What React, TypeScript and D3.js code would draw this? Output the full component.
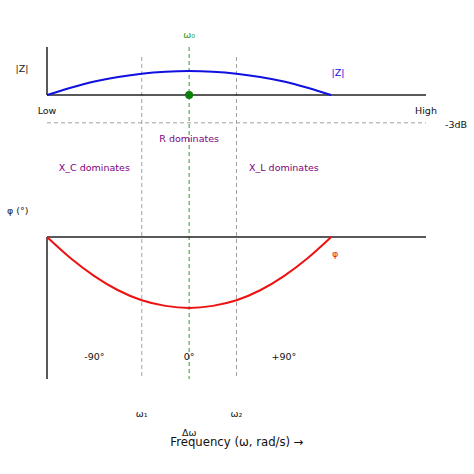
import * as d3 from 'd3';
import React from 'react';

// frequency samples (arbitrary units, resonance at 3)
const FREQ = [0, 0.5, 1, 1.5, 2, 2.5, 3, 3.5, 4, 4.5, 5, 5.5, 6];
// |Z| response (0..1 scale)
const IMPEDANCE = [0, 0.15, 0.28, 0.375, 0.445, 0.486, 0.5, 0.486, 0.445, 0.375, 0.28, 0.15, 0];
// phase response (relative units, negative = below axis)
const PHASE = [0, -0.3, -0.55, -0.75, -0.89, -0.97, -1, -0.97, -0.89, -0.75, -0.55, -0.3, 0];

const OMEGA_1 = 2;
const OMEGA_0 = 3;
const OMEGA_2 = 4;
const X_MAX = 8;
const CUTOFF = -0.58; // -3dB reference on the |Z| scale

const REGION_LABELS = [
  { x: 1, text: 'X_C dominates', row: 1 },
  { x: 3, text: 'R dominates', row: 0 },
  { x: 5, text: 'X_L dominates', row: 1 },
];
const PHASE_LABELS = [
  { x: 1, text: '-90°' },
  { x: 3, text: '0°' },
  { x: 5, text: '+90°' },
];

const WIDTH = 474;
const HEIGHT = 474;
const FONT = 'DejaVu Sans, sans-serif';

export default function App() {
  const xScale = d3.scaleLinear().domain([0, X_MAX]).range([47, 426]);
  const zScale = d3.scaleLinear().domain([0, 1]).range([95, 47]);
  const phScale = d3.scaleLinear().domain([0, -2]).range([237, 379]);

  const zLine = d3
    .line<number>()
    .x((_, i) => xScale(FREQ[i]))
    .y(d => zScale(d))
    .curve(d3.curveNatural);

  const phLine = d3
    .line<number>()
    .x((_, i) => xScale(FREQ[i]))
    .y(d => phScale(d))
    .curve(d3.curveNatural);

  const x0 = xScale(0);
  const xEnd = xScale(X_MAX);
  const curveEnd = xScale(FREQ[FREQ.length - 1]);

  return (
    <svg
      width={WIDTH}
      height={HEIGHT}
      style={{ position: 'absolute', left: 0, top: 0, background: 'white' }}
      fontFamily={FONT}
    >
      {/* guides */}
      {[OMEGA_1, OMEGA_2].map(w => (
        <line
          key={w}
          x1={xScale(w)}
          x2={xScale(w)}
          y1={57}
          y2={phScale(-2)}
          stroke="#a0a0a0"
          strokeWidth={1}
          strokeDasharray="4,3"
        />
      ))}
      <line
        x1={xScale(OMEGA_0)}
        x2={xScale(OMEGA_0)}
        y1={zScale(1)}
        y2={phScale(-2)}
        stroke="#2e9a2e"
        strokeWidth={1}
        strokeDasharray="4,3"
      />
      <line
        x1={x0}
        x2={xEnd}
        y1={zScale(CUTOFF)}
        y2={zScale(CUTOFF)}
        stroke="#a0a0a0"
        strokeWidth={1}
        strokeDasharray="4,3"
      />

      {/* |Z| axes */}
      <line x1={x0} x2={x0} y1={zScale(1)} y2={zScale(0)} stroke="#222" strokeWidth={1.5} />
      <line x1={x0} x2={xEnd} y1={zScale(0)} y2={zScale(0)} stroke="#222" strokeWidth={1.5} />
      <path d={zLine(IMPEDANCE) ?? ''} fill="none" stroke="#1010e0" strokeWidth={2} />
      <circle cx={xScale(OMEGA_0)} cy={zScale(0)} r={4} fill="#0a800a" />

      {/* phase axes */}
      <line x1={x0} x2={xEnd} y1={phScale(0)} y2={phScale(0)} stroke="#222" strokeWidth={1.5} />
      <line x1={x0} x2={x0} y1={phScale(0)} y2={phScale(-2)} stroke="#222" strokeWidth={1.5} />
      <path d={phLine(PHASE) ?? ''} fill="none" stroke="#ee1111" strokeWidth={2} />

      {/* texts */}
      <g fontSize={9.5}>
        <text x={xScale(OMEGA_0)} y={38} textAnchor="middle" fill="#2e9a2e">ω₀</text>
        <text x={22} y={72} textAnchor="middle" fill="#222">|Z|</text>
        <text x={338} y={76} textAnchor="middle" fill="#1010e0">|Z|</text>
        <text x={x0} y={114} textAnchor="middle" fill="#111">Low</text>
        <text x={xEnd} y={114} textAnchor="middle" fill="#111">High</text>
        <text x={445} y={128} fill="#111">-3dB</text>
        {REGION_LABELS.map(l => (
          <text
            key={l.text}
            x={xScale(l.x)}
            y={l.row === 0 ? 142 : 171}
            textAnchor="middle"
            fill="#800080"
          >
            {l.text}
          </text>
        ))}
        <text x={7} y={214} fill="#222">φ (°)</text>
        <text x={curveEnd + 4} y={257} textAnchor="middle" fill="#e81010">φ</text>
        {PHASE_LABELS.map(l => (
          <text key={l.text} x={xScale(l.x)} y={360} textAnchor="middle" fill="#111">
            {l.text}
          </text>
        ))}
        <text x={xScale(OMEGA_1)} y={417} textAnchor="middle" fill="#222">ω₁</text>
        <text x={xScale(OMEGA_2)} y={417} textAnchor="middle" fill="#222">ω₂</text>
        <text x={xScale(OMEGA_0)} y={436} textAnchor="middle" fill="#222">Δω</text>
      </g>
      <text x={237} y={446} textAnchor="middle" fontSize={11.7} fill="#111">
        Frequency (ω, rad/s) →
      </text>
    </svg>
  );
}
